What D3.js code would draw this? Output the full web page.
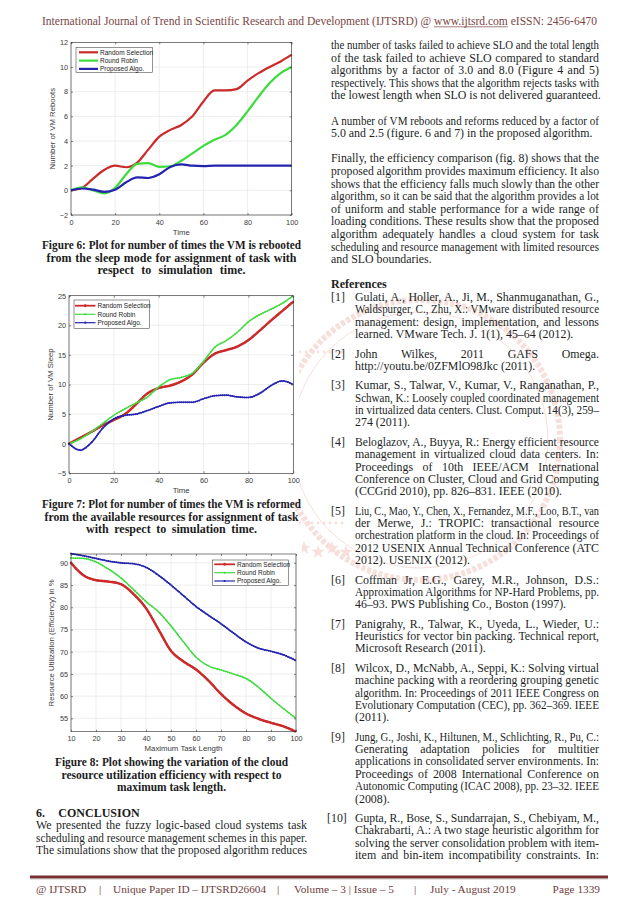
<!DOCTYPE html>
<html>
<head>
<meta charset="utf-8">
<script src="https://cdn.jsdelivr.net/npm/d3@7"></script>
<style>
  body { margin: 0; background: #fff; }
  svg { display: block; }
</style>
</head>
<body>
<svg id="page" width="638" height="902"></svg>
<script>
// ---------- chart data ----------
const seriesNames = ["Random Selection", "Round Robin", "Proposed Algo."];

// Figure 6: number of VM reboots vs time
const timeSteps = [0, 5, 10, 15, 20, 25, 30, 35, 40, 45, 50, 55, 60, 65, 70, 75, 80, 85, 90, 95, 100];
const rebootRandom = [0, 0.2, 0.95, 1.65, 2.0, 1.87, 2.25, 3.3, 4.35, 4.9, 5.3, 6.0, 7.2, 8.1, 8.1, 8.2, 8.9, 9.5, 10.0, 10.45, 11.0];
const rebootRobin = [0, 0.25, 0.0, -0.25, 0.2, 1.3, 2.15, 2.2, 1.9, 1.95, 2.4, 3.0, 3.6, 4.1, 4.5, 5.3, 6.4, 7.6, 8.7, 9.5, 10.0];
const rebootProposed = [0, 0.15, 0.05, -0.12, 0.05, 0.65, 1.05, 1.0, 1.3, 1.9, 2.1, 2.0, 1.97, 2.0, 2.0, 2.0, 2.0, 2.0, 2.0, 2.0, 2.0];
const rebootYTicks = [-2, 0, 2, 4, 6, 8, 10, 12];

// Figure 7: number of VM sleep vs time
const sleepRandom = [0, 1.0, 2.0, 3.1, 4.0, 5.0, 6.7, 8.5, 9.4, 9.8, 10.5, 11.7, 13.7, 15.2, 15.8, 16.4, 17.5, 19.1, 20.8, 22.4, 24.0];
const sleepRobin = [0, 0.8, 2.0, 3.4, 4.8, 5.9, 6.9, 7.9, 9.6, 10.8, 11.2, 11.9, 13.9, 16.3, 17.4, 18.8, 20.6, 21.8, 22.7, 23.7, 25.0];
const sleepProposed = [0, -1.1, 0.2, 2.6, 4.2, 4.8, 5.0, 5.6, 6.3, 6.9, 7.0, 7.0, 7.6, 8.1, 8.2, 7.9, 7.8, 8.5, 9.8, 10.6, 10.0];
const sleepYTicks = [-5, 0, 5, 10, 15, 20, 25];
const timeTicks = [0, 20, 40, 60, 80, 100];

// Figure 8: resource utilization (%) vs maximum task length
const taskLength = [10, 15, 20, 25, 30, 35, 40, 45, 50, 55, 60, 65, 70, 75, 80, 85, 90, 95, 100];
const effRandom = [90, 87.2, 86.1, 85.8, 85.2, 83.0, 79.8, 75.0, 70.2, 67.8, 66.0, 63.5, 60.5, 58.0, 56.1, 54.9, 54.0, 53.2, 52.0];
const effRobin = [91.1, 91.0, 90.2, 88.6, 86.6, 84.0, 81.3, 79.0, 75.8, 72.2, 68.8, 66.8, 65.9, 65.0, 64.0, 62.0, 59.5, 57.2, 55.0];
const effProposed = [92.1, 91.6, 91.0, 90.4, 90.0, 89.8, 89.0, 87.2, 85.0, 82.6, 80.2, 78.2, 76.3, 74.2, 72.2, 70.8, 70.1, 69.3, 68.0];
const effXTicks = [10, 20, 30, 40, 50, 60, 70, 80, 90, 100];
const effYTicks = [55, 60, 65, 70, 75, 80, 85, 90];

// ---------- page text ----------
const headerText = "International Journal of Trend in Scientific Research and Development (IJTSRD) @ www.ijtsrd.com eISSN: 2456-6470";
const headerLink = "www.ijtsrd.com";

const fig6Caption = ["Figure 6: Plot for number of times the VM is rebooted", "from the sleep mode for assignment of task with", "respect to simulation time."];
const fig7Caption = ["Figure 7: Plot for number of times the VM is reformed", "from the available resources for assignment of task", "with respect to simulation time."];
const fig8Caption = ["Figure 8: Plot showing the variation of the cloud", "resource utilization efficiency with respect to", "maximum task length."];

const conclusionLines = [
  "We presented the fuzzy logic-based cloud systems task",
  "scheduling and resource management schemes in this paper.",
  "The simulations show that the proposed algorithm reduces"
];

const bodyParas = [
  ["the number of tasks failed to achieve SLO and the total length",
   "of the task failed to achieve SLO compared to standard",
   "algorithms by a factor of 3.0 and 8.0 (Figure 4 and 5)",
   "respectively. This shows that the algorithm rejects tasks with",
   "the lowest length when SLO is not delivered guaranteed."],
  ["A number of VM reboots and reforms reduced by a factor of",
   "5.0 and 2.5 (figure. 6 and 7) in the proposed algorithm."],
  ["Finally, the efficiency comparison (fig. 8) shows that the",
   "proposed algorithm provides maximum efficiency. It also",
   "shows that the efficiency falls much slowly than the other",
   "algorithm, so it can be said that the algorithm provides a lot",
   "of uniform and stable performance for a wide range of",
   "loading conditions. These results show that the proposed",
   "algorithm adequately handles a cloud system for task",
   "scheduling and resource management with limited resources",
   "and SLO boundaries."]
];

const refs = [
  ["Gulati, A., Holler, A., Ji, M., Shanmuganathan, G.,",
   "Waldspurger, C., Zhu, X.: VMware distributed resource",
   "management: design, implementation, and lessons",
   "learned. VMware Tech. J. 1(1), 45–64 (2012)."],
  ["John Wilkes, 2011 GAFS Omega.",
   "http://youtu.be/0ZFMlO98Jkc (2011)."],
  ["Kumar, S., Talwar, V., Kumar, V., Ranganathan, P.,",
   "Schwan, K.: Loosely coupled coordinated management",
   "in virtualized data centers. Clust. Comput. 14(3), 259–",
   "274 (2011)."],
  ["Beloglazov, A., Buyya, R.: Energy efficient resource",
   "management in virtualized cloud data centers. In:",
   "Proceedings of 10th IEEE/ACM International",
   "Conference on Cluster, Cloud and Grid Computing",
   "(CCGrid 2010), pp. 826–831. IEEE (2010)."],
  ["Liu, C., Mao, Y., Chen, X., Fernandez, M.F., Loo, B.T., van",
   "der Merwe, J.: TROPIC: transactional resource",
   "orchestration platform in the cloud. In: Proceedings of",
   "2012 USENIX Annual Technical Conference (ATC",
   "2012). USENIX (2012)."],
  ["Coffman Jr, E.G., Garey, M.R., Johnson, D.S.:",
   "Approximation Algorithms for NP-Hard Problems, pp.",
   "46–93. PWS Publishing Co., Boston (1997)."],
  ["Panigrahy, R., Talwar, K., Uyeda, L., Wieder, U.:",
   "Heuristics for vector bin packing. Technical report,",
   "Microsoft Research (2011)."],
  ["Wilcox, D., McNabb, A., Seppi, K.: Solving virtual",
   "machine packing with a reordering grouping genetic",
   "algorithm. In: Proceedings of 2011 IEEE Congress on",
   "Evolutionary Computation (CEC), pp. 362–369. IEEE",
   "(2011)."],
  ["Jung, G., Joshi, K., Hiltunen, M., Schlichting, R., Pu, C.:",
   "Generating adaptation policies for multitier",
   "applications in consolidated server environments. In:",
   "Proceedings of 2008 International Conference on",
   "Autonomic Computing (ICAC 2008), pp. 23–32. IEEE",
   "(2008)."],
  ["Gupta, R., Bose, S., Sundarrajan, S., Chebiyam, M.,",
   "Chakrabarti, A.: A two stage heuristic algorithm for",
   "solving the server consolidation problem with item-",
   "item and bin-item incompatibility constraints. In:"]
];

const footerParts = ["@ IJTSRD", "|", "Unique Paper ID – IJTSRD26604", "|", "Volume – 3 | Issue – 5", "|", "July - August 2019"];
const footerPage = "Page 1339";

// ---------- helpers ----------
const SERIF = "'Liberation Serif','Times New Roman',serif";
const SANS = "'Liberation Sans',Arial,Helvetica,sans-serif";
const INK = "#231f1f";
const BODY = 11.9;
const svg = d3.select("#page");

// place a line of text, spread or squeezed to a target width
function fitLine(g, str, x, yc, target, o = {}) {
  const t = g.append("text")
    .attr("x", x).attr("y", yc + 4)
    .attr("font-family", SERIF)
    .attr("font-size", o.size || BODY)
    .attr("font-weight", o.bold ? "bold" : null)
    .attr("fill", o.fill || INK)
    .text(str);
  if (target) {
    const w = t.node().getComputedTextLength();
    const spaces = (str.match(/ /g) || []).length;
    if (w < target && spaces > 0) t.style("word-spacing", ((target - w) / spaces) + "px");
    else if (w > target) t.attr("textLength", target).attr("lengthAdjust", "spacingAndGlyphs");
  }
  return t;
}

// faint journal seal behind the right column
function drawWatermark() {
  const wm = svg.append("g").attr("opacity", 0.55);
  const pink = "#f1c6bf";
  wm.append("circle").attr("cx", 420).attr("cy", 440).attr("r", 140)
    .attr("fill", "none").attr("stroke", pink).attr("stroke-width", 6)
    .attr("stroke-dasharray", "4 2");
  wm.append("circle").attr("cx", 420).attr("cy", 440).attr("r", 128)
    .attr("fill", "none").attr("stroke", pink).attr("stroke-width", 1);
  [352, 523].forEach(yy => {
    d3.range(8).forEach(i => wm.append("circle").attr("cx", 300 + i * 6).attr("cy", yy)
      .attr("r", 1.4).attr("fill", pink));
  });
  const star = d3.symbol().type(d3.symbolStar).size(60);
  d3.range(4).forEach(i => wm.append("path").attr("d", star())
    .attr("transform", `translate(${304 + i * 14},${548 + (i % 2) * 4})`).attr("fill", pink));
}

function drawChart(c) {
  const g = svg.append("g");
  // white figure background hides the seal like the pasted image did
  g.append("rect").attr("x", 20).attr("y", c.top - 12).attr("width", c.right + 6 - 20)
    .attr("height", c.bottom - c.top + 40).attr("fill", "#fff");

  const x = d3.scaleLinear().domain(c.xDomain).range([c.left, c.right]);
  const y = d3.scaleLinear().domain(c.yDomain).range([c.bottom, c.top]);

  // grid
  g.append("g").selectAll("line").data(c.xTicks).join("line")
    .attr("x1", d => x(d)).attr("x2", d => x(d)).attr("y1", c.top).attr("y2", c.bottom)
    .attr("stroke", "#e2e2e2").attr("stroke-width", 0.6);
  g.append("g").selectAll("line").data(c.yTicks).join("line")
    .attr("y1", d => y(d)).attr("y2", d => y(d)).attr("x1", c.left).attr("x2", c.right)
    .attr("stroke", "#e2e2e2").attr("stroke-width", 0.6);

  // series
  const line = d3.line().x((d, i) => x(c.xs[i])).y(d => y(d)).curve(d3.curveMonotoneX);
  c.series.forEach(s => {
    g.append("path").attr("d", line(s.values)).attr("fill", "none")
      .attr("stroke", s.color).attr("stroke-width", s.width).attr("stroke-linejoin", "round");
    if (s.marker) {
      g.append("path").attr("d", line(s.values)).attr("fill", "none")
        .attr("stroke", s.color).attr("stroke-width", s.marker)
        .attr("stroke-linecap", "round").attr("stroke-dasharray", "0 " + s.gap);
    }
  });

  // box and ticks
  g.append("rect").attr("x", c.left).attr("y", c.top)
    .attr("width", c.right - c.left).attr("height", c.bottom - c.top)
    .attr("fill", "none").attr("stroke", "#2b2b2b").attr("stroke-width", 0.6);

  const style = sel => {
    sel.select(".domain").remove();
    sel.attr("font-family", SANS).attr("font-size", 7.3).attr("color", "#3a3a3a");
    sel.selectAll(".tick line").attr("stroke-width", 0.6);
  };
  g.append("g").attr("transform", `translate(0,${c.bottom})`)
    .call(d3.axisBottom(x).tickValues(c.xTicks).tickSize(-2).tickPadding(4.5)).call(style);
  g.append("g").attr("transform", `translate(0,${c.top})`)
    .call(d3.axisTop(x).tickValues(c.xTicks).tickSize(-2).tickFormat("")).call(style);
  g.append("g").attr("transform", `translate(${c.left},0)`)
    .call(d3.axisLeft(y).tickValues(c.yTicks).tickSize(-2).tickPadding(3)).call(style);
  g.append("g").attr("transform", `translate(${c.right},0)`)
    .call(d3.axisRight(y).tickValues(c.yTicks).tickSize(-2).tickFormat("")).call(style);

  // axis titles
  g.append("text").attr("x", (c.left + c.right) / 2).attr("y", c.bottom + 19.5)
    .attr("text-anchor", "middle").attr("font-family", SANS).attr("font-size", 7.8)
    .attr("fill", "#3a3a3a").text(c.xLabel);
  g.append("text")
    .attr("transform", `translate(${c.yLabelX},${(c.top + c.bottom) / 2}) rotate(-90)`)
    .attr("text-anchor", "middle").attr("font-family", SANS).attr("font-size", 7.8)
    .attr("fill", "#3a3a3a").text(c.yLabel);

  // legend
  const L = c.legend;
  g.append("rect").attr("x", L.x0).attr("y", L.y0).attr("width", L.x1 - L.x0).attr("height", L.y1 - L.y0)
    .attr("fill", "#fff").attr("stroke", "#2b2b2b").attr("stroke-width", 0.5);
  c.series.forEach((s, i) => {
    const yy = L.rows[i];
    g.append("line").attr("x1", L.s0).attr("x2", L.s1).attr("y1", yy).attr("y2", yy)
      .attr("stroke", s.color).attr("stroke-width", s.width);
    if (s.marker) {
      g.append("circle").attr("cx", (L.s0 + L.s1) / 2).attr("cy", yy).attr("r", s.marker * 0.55)
        .attr("fill", s.color);
    }
    g.append("text").attr("x", L.s1 + 2).attr("y", yy + 2.3)
      .attr("font-family", SANS).attr("font-size", 6.5).attr("fill", "#222").text(seriesNames[i]);
  });
}

// ---------- page ----------
drawWatermark();

// header: one text line, link underlined with a drawn rule
{
  const head = fitLine(svg, headerText, 42, 21, 555, { size: 12, fill: "#7a4545" });
  const i0 = headerText.indexOf(headerLink);
  const n = head.node();
  const a = n.getExtentOfChar(i0), b = n.getExtentOfChar(i0 + headerLink.length - 1);
  svg.append("line").attr("x1", a.x).attr("x2", b.x + b.width).attr("y1", 26.8).attr("y2", 26.8)
    .attr("stroke", "#7a4545").attr("stroke-width", 0.7);
}

// figures
const RED = "#cc2a2a", GREEN = "#3ddc3d", BLUE = "#2323b0";

drawChart({
  left: 71, right: 291.7, top: 42.3, bottom: 215,
  xDomain: [0, 100], yDomain: [-2, 12], xs: timeSteps,
  xTicks: timeTicks, yTicks: rebootYTicks,
  xLabel: "Time", yLabel: "Number of VM Reboots", yLabelX: 55,
  series: [
    { values: rebootRandom, color: RED, width: 2.2 },
    { values: rebootRobin, color: GREEN, width: 2.2 },
    { values: rebootProposed, color: BLUE, width: 2.2 }
  ],
  legend: { x0: 76, x1: 152.7, y0: 47.3, y1: 72.7, rows: [52.3, 60.6, 68.9], s0: 79, s1: 98 }
});

drawChart({
  left: 69, right: 293.3, top: 295.7, bottom: 473.3,
  xDomain: [0, 100], yDomain: [-5, 25], xs: timeSteps,
  xTicks: timeTicks, yTicks: sleepYTicks,
  xLabel: "Time", yLabel: "Number of VM Sleep", yLabelX: 53,
  series: [
    { values: sleepRandom, color: RED, width: 1.8, marker: 2.6, gap: 1.6 },
    { values: sleepRobin, color: GREEN, width: 1.2, marker: 1.8, gap: 2.2 },
    { values: sleepProposed, color: BLUE, width: 1.2, marker: 2.0, gap: 2.0 }
  ],
  legend: { x0: 74, x1: 149.3, y0: 300, y1: 328.3, rows: [305.7, 314.3, 322.7], s0: 75, s1: 95.5 }
});

drawChart({
  left: 71, right: 296, top: 554, bottom: 731.7,
  xDomain: [10, 100], yDomain: [52, 92], xs: taskLength,
  xTicks: effXTicks, yTicks: effYTicks,
  xLabel: "Maximum Task Length", yLabel: "Resource Utilization (Efficiency) in %", yLabelX: 54,
  series: [
    { values: effRandom, color: RED, width: 1.8, marker: 2.6, gap: 1.6 },
    { values: effRobin, color: GREEN, width: 1.2, marker: 1.8, gap: 2.2 },
    { values: effProposed, color: BLUE, width: 1.2, marker: 2.0, gap: 2.0 }
  ],
  legend: { x0: 212.7, x1: 288.3, y0: 560, y1: 585.7, rows: [564.3, 572.7, 581], s0: 214.3, s1: 235 }
});

// captions
const txt = svg.append("g");
const capW = [[259, 250, 148], [259, 254, 171], [233, 220, 109]];
[[fig6Caption, 245], [fig7Caption, 504], [fig8Caption, 762]].forEach(([lines, y0], k) => {
  lines.forEach((s, i) => {
    const w = capW[k][i];
    fitLine(txt, s, 171.5 - w / 2, y0 + i * 12.5, w, { bold: true, size: 12, fill: "#1c1c1c" });
  });
});

// conclusion
const boldAt = (s, x, yc) => txt.append("text").attr("x", x).attr("y", yc + 4).attr("font-family", SERIF)
  .attr("font-size", 12).attr("font-weight", "bold").attr("fill", "#1c1c1c").text(s);
boldAt("6.", 36, 812.7);
boldAt("CONCLUSION", 58.3, 812.7);
conclusionLines.forEach((s, i) => fitLine(txt, s, 36, 825 + i * 12.5, 271));

// right column body (last line of a paragraph keeps its natural width)
const paraTop = [45, 120.6, 158.4];
bodyParas.forEach((p, k) => {
  p.forEach((s, i) => {
    const last = i === p.length - 1;
    fitLine(txt, s, 331, paraTop[k] + i * 12.6, last ? null : 268);
  });
});

// references
boldAt("References", 331, 284);
let ry = 297;
refs.forEach((r, k) => {
  const label = "[" + (k + 1) + "]";
  fitLine(txt, label, k === 9 ? 327 : 331, ry, null);
  r.forEach((s, i) => {
    const last = i === r.length - 1 && k !== 9;
    fitLine(txt, s, 355, ry, last ? null : 244);
    ry += 12.45;
  });
  ry += 6.7;
});

// footer
svg.append("rect").attr("x", 30).attr("y", 875.5).attr("width", 578).attr("height", 3).attr("fill", "#7b2d2d");
svg.append("rect").attr("x", 30).attr("y", 878.5).attr("width", 578).attr("height", 0.8).attr("fill", "#a9a0a0");
const footX = [36, 99, 113, 277, 294, 414, 430];
footerParts.forEach((s, i) => {
  svg.append("text").attr("x", footX[i]).attr("y", 893).attr("font-family", SERIF)
    .attr("font-size", 11.3).attr("fill", "#6e3c3c").text(s);
});
svg.append("text").attr("x", 600).attr("y", 893).attr("text-anchor", "end").attr("font-family", SERIF)
  .attr("font-size", 11.3).attr("fill", "#6e3c3c").text(footerPage);
</script>
</body>
</html>
